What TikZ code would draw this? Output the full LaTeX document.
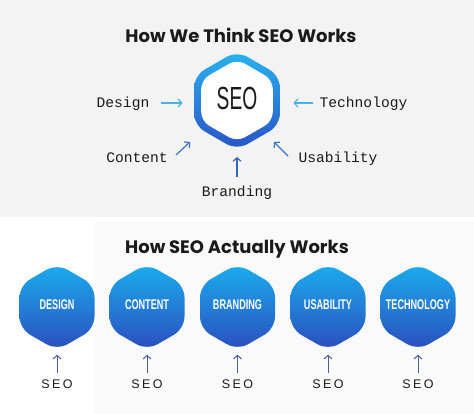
\documentclass[tikz,border=0pt]{standalone}
\usepackage{fontspec}
\setmainfont{Liberation Sans}
\newfontfamily\titlefont{Poppins}
\newfontfamily\monofont{Liberation Mono}
\newfontfamily\spacedfont{Liberation Sans}[LetterSpace=20]
\usetikzlibrary{shapes.geometric,arrows.meta}
\definecolor{topbg}{HTML}{F3F3F3}
\definecolor{botbg}{HTML}{FAFAFA}
\definecolor{hexTop}{HTML}{1AAEF0}
\definecolor{hexBot}{HTML}{2B4DBC}
\definecolor{ringTop}{HTML}{28B4F0}
\definecolor{ringBot}{HTML}{2A52C6}
\definecolor{arrLight}{HTML}{45B3E0}
\definecolor{arrMid}{HTML}{3C74C4}
\definecolor{arrDark}{HTML}{3A62B8}
\definecolor{arrSlate}{HTML}{4A5E9C}
\definecolor{txt}{HTML}{1A1A1A}
\tikzset{
  hexshape/.style={regular polygon, regular polygon sides=6, regular polygon rotate=30,
    inner sep=0pt, outer sep=0pt, rounded corners=12pt},
  hexfill/.style={hexshape, minimum size=86.6pt, top color=hexTop, bottom color=hexBot, draw=none},
  hextext/.style={inner sep=0pt, text=white, font=\bfseries\fontsize{14}{14}\selectfont},
  hexring/.style={hexshape, minimum size=99.2pt, top color=ringTop, bottom color=ringBot, draw=none},
  hexinner/.style={hexshape, minimum size=82.6pt, fill=white, rounded corners=9pt},
  monolabel/.style={inner sep=0pt, anchor=base, text=txt, font=\monofont\fontsize{14.6}{14.6}\selectfont},
  titletext/.style={inner sep=0pt, anchor=base, text=txt, font=\titlefont\bfseries\fontsize{18}{18}\selectfont},
  seolabel/.style={inner sep=0pt, anchor=base, text=txt, font=\spacedfont\fontsize{12.5}{12.5}\selectfont},
  arr/.style={-{Straight Barb[length=3.5pt,width=8pt]}, line width=1.2pt},
}
\begin{document}
\begin{tikzpicture}[x=1pt,y=-1pt]
\useasboundingbox (0,0) rectangle (474,414);
% backgrounds
\fill[white] (0,0) rectangle (474,414);
\fill[topbg] (0,0) rectangle (474,217);
\fill[botbg] (95,222) rectangle (474,414);

% ---------- top panel ----------
\node[titletext] (t1) at (241,43) {How We Think SEO Works};
\node[hexring] (seo) at (237,100.5) {};
\node[hexinner] (seoin) at (seo.center) {};
\node[inner sep=0pt, text=txt] (seotext) at (237,98)
  {\scalebox{0.6}[1]{\fontsize{32}{32}\selectfont SEO}};

\node[monolabel] (design) at (123,108) {Design};
\node[monolabel] (tech) at (363.5,108) {Technology};
\node[monolabel] (content) at (137,162.5) {Content};
\node[monolabel] (usab) at (338,162.5) {Usability};
\node[monolabel] (brand) at (237,197) {Branding};

\coordinate (dA) at (161,103);   \coordinate (dB) at (182.5,103);
\coordinate (tA) at (313,103);   \coordinate (tB) at (293.5,103);
\coordinate (cA) at (176,155);   \coordinate (cB) at (190,142);
\coordinate (uA) at (288,156);   \coordinate (uB) at (274,142);
\coordinate (bA) at (237,177);   \coordinate (bB) at (237,157);
\draw[arr, arrLight] (dA) -- (dB);
\draw[arr, arrLight] (tA) -- (tB);
\draw[arr, arrMid] (cA) -- (cB);
\draw[arr, arrMid] (uA) -- (uB);
\draw[arr, arrDark] (bA) -- (bB);

% ---------- bottom panel ----------
\node[titletext] (t2) at (237,254) {How SEO Actually Works};

\foreach \i/\x/\lab in {1/57/DESIGN,2/147/CONTENT,3/237.5/BRANDING,4/328/USABILITY,5/418/TECHNOLOGY}{
  \node[hexfill] (h\i) at (\x,307) {};
  \node[hextext] (ht\i) at (\x,305) {\scalebox{0.65}[1]{\lab}};
  \node[seolabel] (s\i) at (\x,388) {SEO};
  \draw[arr, arrSlate, line width=1pt, shorten <=6pt, shorten >=4.5pt] (s\i.north) -- (h\i.south);
}
\end{tikzpicture}
\end{document}
